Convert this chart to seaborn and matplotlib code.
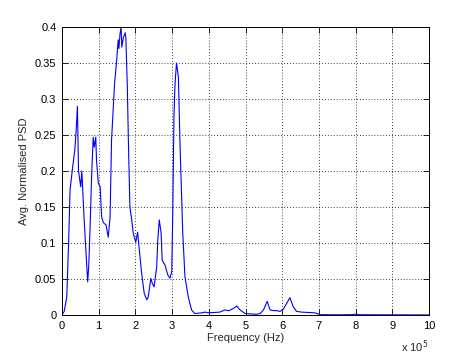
import numpy as np
import pandas as pd
import matplotlib
matplotlib.use("Agg")
import matplotlib.pyplot as plt
import seaborn as sns

# frequency in units of 1e5 Hz, and average normalised PSD
freq_1e5 = [0.0, 0.06, 0.13, 0.18, 0.22, 0.29, 0.35, 0.39, 0.42, 0.45,
            0.51, 0.54, 0.60, 0.67, 0.70, 0.73, 0.76, 0.81, 0.85, 0.88,
            0.92, 0.94, 0.99, 1.04, 1.08, 1.13, 1.20, 1.26, 1.31, 1.35,
            1.42, 1.44, 1.49, 1.53, 1.55, 1.58, 1.61, 1.63, 1.67, 1.72,
            1.74, 1.78, 1.81, 1.85, 1.90, 1.94, 2.01, 2.06, 2.10, 2.17,
            2.24, 2.31, 2.35, 2.42, 2.46, 2.51, 2.58, 2.61, 2.65, 2.70,
            2.73, 2.81, 2.88, 2.94, 2.99, 3.02, 3.05, 3.08, 3.12, 3.17,
            3.22, 3.29, 3.35, 3.44, 3.53, 3.62, 3.81, 3.90, 4.00, 4.30,
            4.44, 4.55, 4.67, 4.76, 4.85, 4.99, 5.30, 5.40, 5.49, 5.59,
            5.67, 5.76, 5.85, 5.94, 6.03, 6.12, 6.21, 6.30, 6.39, 6.53,
            6.89, 7.03, 7.50, 7.90, 8.00, 8.10, 9.00, 10.0]
psd = [0.0, 0.005, 0.025, 0.100, 0.174, 0.205, 0.230, 0.260, 0.290, 0.200,
       0.178, 0.200, 0.136, 0.072, 0.046, 0.070, 0.114, 0.197, 0.247, 0.233,
       0.247, 0.215, 0.183, 0.178, 0.136, 0.128, 0.125, 0.108, 0.136, 0.243,
       0.310, 0.326, 0.354, 0.382, 0.370, 0.390, 0.400, 0.372, 0.385, 0.392,
       0.385, 0.317, 0.239, 0.150, 0.132, 0.114, 0.101, 0.115, 0.094, 0.058,
       0.030, 0.021, 0.025, 0.051, 0.044, 0.039, 0.067, 0.104, 0.132, 0.114,
       0.076, 0.069, 0.056, 0.051, 0.060, 0.150, 0.275, 0.322, 0.350, 0.331,
       0.229, 0.114, 0.053, 0.025, 0.007, 0.002, 0.003, 0.004, 0.003, 0.004,
       0.007, 0.006, 0.009, 0.0125, 0.007, 0.002, 0.001, 0.002, 0.007, 0.019,
       0.007, 0.006, 0.006, 0.005, 0.008, 0.016, 0.024, 0.0115, 0.005, 0.004,
       0.003, 0.0005, 0.0003, 0.0005, 0.0012, 0.0004, 0.0002, 0.0001]

x_ticks = list(range(0, 11))
y_ticks = [0, 0.05, 0.1, 0.15, 0.2, 0.25, 0.3, 0.35, 0.4]
y_tick_labels = ["0", "0.05", "0.1", "0.15", "0.2", "0.25", "0.3", "0.35", "0.4"]

df = pd.DataFrame({"freq": freq_1e5, "psd": psd})

sns.set_theme(style="ticks")
plt.rcParams["font.family"] = ["Liberation Sans", "DejaVu Sans"]
plt.rcParams["font.size"] = 8

fig = plt.figure(figsize=(4.74, 3.54), dpi=100)
ax = fig.add_axes([0.1308, 0.1102, 0.7743, 0.8136])

sns.lineplot(data=df, x="freq", y="psd", color="blue", linewidth=0.8, ax=ax)

ax.set_xlim(0, 10)
ax.set_ylim(0, 0.4)
ax.set_xticks(x_ticks)
ax.set_yticks(y_ticks)
ax.set_yticklabels(y_tick_labels)
ax.tick_params(direction="in", length=4, width=0.6, top=True, right=True,
               labelsize=8, colors="black", pad=4)
ax.grid(True, color="black", linestyle=(0, (1, 2.5)), linewidth=0.6)
for s in ax.spines.values():
    s.set_color("black")
    s.set_linewidth(0.7)

ax.set_xlabel("Frequency (Hz)", fontsize=8, labelpad=2)
ax.set_ylabel("Avg. Normalised PSD", fontsize=8, labelpad=4)
fig.text(0.903, 0.022, r"x 10$^{5}$", ha="right", va="center", fontsize=8)

fig.savefig("out.png", dpi=100, facecolor="white")
